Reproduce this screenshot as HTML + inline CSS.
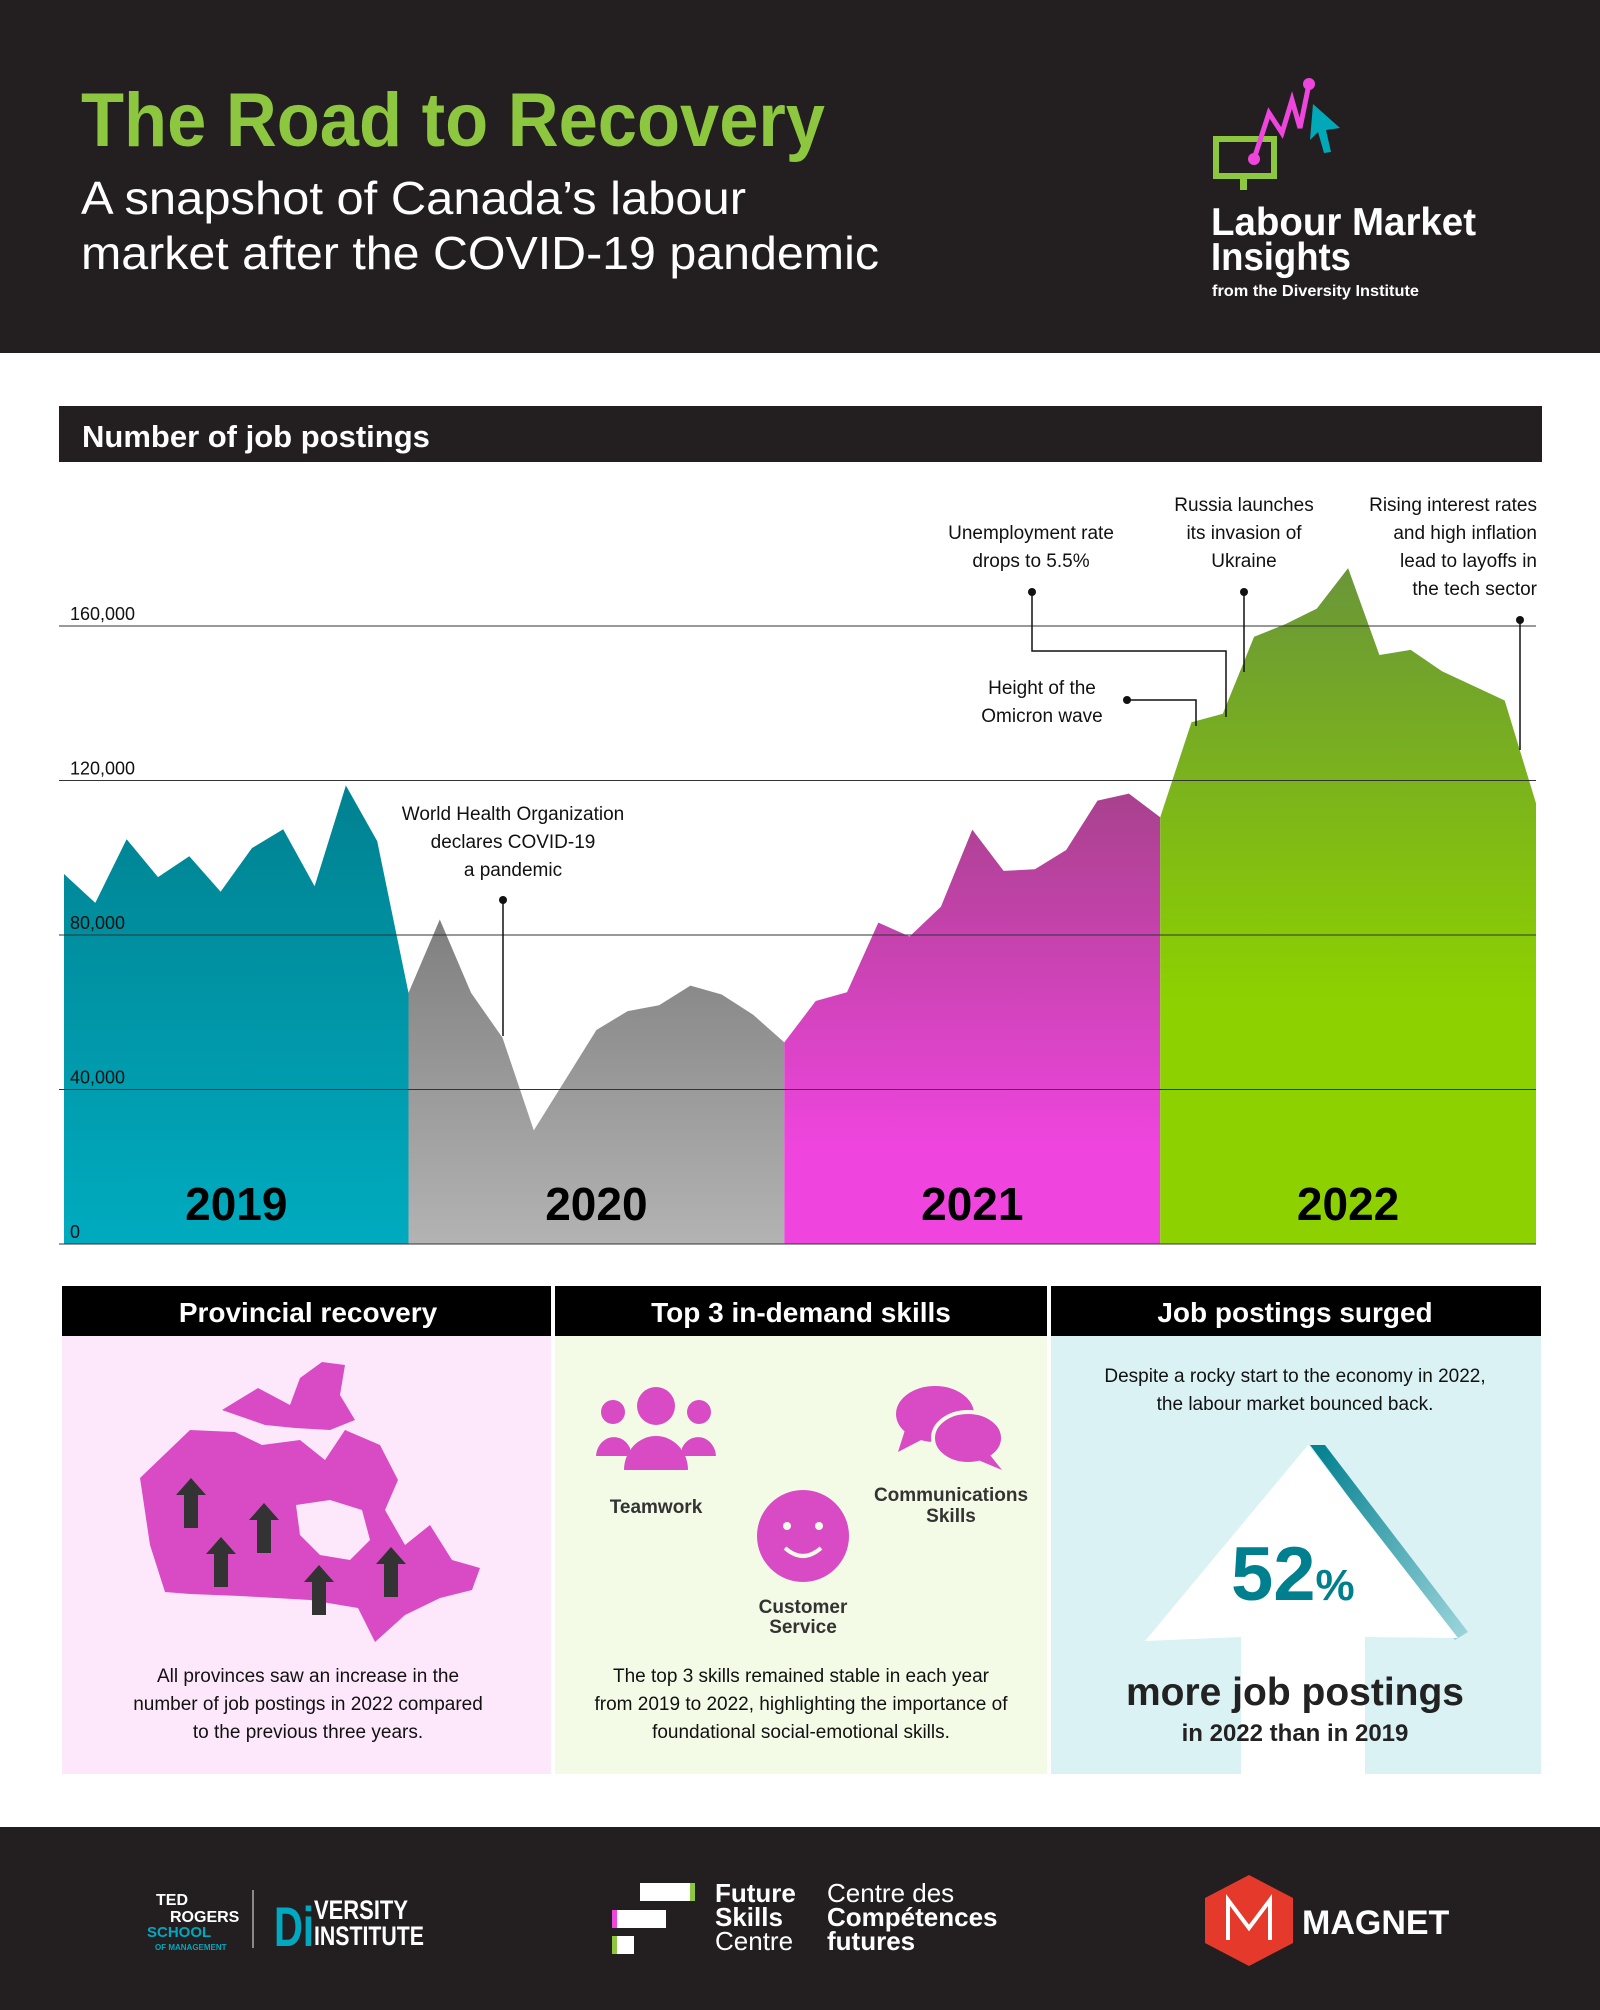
<!DOCTYPE html>
<html><head><meta charset="utf-8"><style>
html,body{margin:0;padding:0;background:#fff}
svg{display:block;font-family:"Liberation Sans",Arial,sans-serif}
</style></head><body>
<svg id="root" width="1600" height="2010" viewBox="0 0 1600 2010">
<defs>
<linearGradient id="g2019" gradientUnits="userSpaceOnUse" x1="0" y1="760" x2="0" y2="1244"><stop offset="0" stop-color="#007f8e"/><stop offset="1" stop-color="#00abbf"/></linearGradient>
<linearGradient id="g2020" gradientUnits="userSpaceOnUse" x1="0" y1="900" x2="0" y2="1244"><stop offset="0" stop-color="#7c7c7c"/><stop offset="1" stop-color="#b3b3b3"/></linearGradient>
<linearGradient id="g2021" gradientUnits="userSpaceOnUse" x1="0" y1="780" x2="0" y2="1150"><stop offset="0" stop-color="#a6418a"/><stop offset="1" stop-color="#ef45de"/></linearGradient>
<linearGradient id="g2022" gradientUnits="userSpaceOnUse" x1="0" y1="570" x2="0" y2="1000"><stop offset="0" stop-color="#6a9638"/><stop offset="1" stop-color="#8dd100"/></linearGradient>
<linearGradient id="gteal" x1="0" y1="0" x2="1" y2="1"><stop offset="0" stop-color="#007f8e"/><stop offset="1" stop-color="#9ed6dc"/></linearGradient>
</defs>

<!-- Header -->
<rect x="0" y="0" width="1600" height="353" fill="#231f20"/>
<text x="81" y="146" font-size="76" font-weight="bold" fill="#8dc63f" textLength="744" lengthAdjust="spacingAndGlyphs">The Road to Recovery</text>
<text x="81" y="214" font-size="46" fill="#fff" textLength="665" lengthAdjust="spacingAndGlyphs">A snapshot of Canada’s labour</text>
<text x="81" y="269" font-size="46" fill="#fff" textLength="798" lengthAdjust="spacingAndGlyphs">market after the COVID-19 pandemic</text>
<g>
<rect x="1216" y="139" width="58" height="37" fill="none" stroke="#8dc63f" stroke-width="6"/>
<rect x="1240" y="176" width="7" height="14" fill="#8dc63f"/>
<polyline points="1254,159 1269,113 1282,133 1292,100 1300,128 1309,84" fill="none" stroke="#ee45dd" stroke-width="5"/>
<circle cx="1254" cy="159" r="6" fill="#ee45dd"/><circle cx="1309" cy="84" r="6" fill="#ee45dd"/>
<polygon points="1313,104 1340,128 1326,130 1331,152 1324,153 1318,132 1310,140" fill="#00a8b8"/>
<text x="1211" y="235" font-size="39" font-weight="bold" fill="#fff" textLength="265" lengthAdjust="spacingAndGlyphs">Labour Market</text>
<text x="1211" y="270" font-size="39" font-weight="bold" fill="#fff" textLength="140" lengthAdjust="spacingAndGlyphs">Insights</text>
<text x="1212" y="296" font-size="16" font-weight="bold" fill="#fff" textLength="207" lengthAdjust="spacingAndGlyphs">from the Diversity Institute</text>
</g>

<!-- Chart header -->
<rect x="59" y="406" width="1483" height="56" fill="#231f20"/>
<text x="82" y="447" font-size="31" font-weight="bold" fill="#fff">Number of job postings</text>

<g id="chart"></g>

<!-- Annotations -->
<g font-size="19" fill="#111" text-anchor="middle">
<g>
<text x="513" y="820">World Health Organization</text><text x="513" y="848">declares COVID-19</text><text x="513" y="876">a pandemic</text>
<circle cx="503" cy="900" r="4"/><line x1="503" y1="900" x2="503" y2="1036" stroke="#111" stroke-width="1.5"/></g>
<g>
<text x="1031" y="539">Unemployment rate</text><text x="1031" y="567">drops to 5.5%</text>
<circle cx="1032" cy="592" r="4"/><polyline points="1032,592 1032,651 1226,651 1226,717" fill="none" stroke="#111" stroke-width="1.5"/></g>
<g>
<text x="1244" y="511">Russia launches</text><text x="1244" y="539">its invasion of</text><text x="1244" y="567">Ukraine</text>
<circle cx="1244" cy="592" r="4"/><line x1="1244" y1="592" x2="1244" y2="672" stroke="#111" stroke-width="1.5"/></g>
<g text-anchor="end">
<text x="1537" y="511">Rising interest rates</text><text x="1537" y="539">and high inflation</text><text x="1537" y="567">lead to layoffs in</text><text x="1537" y="595">the tech sector</text>
<circle cx="1520" cy="620" r="4"/><line x1="1520" y1="620" x2="1520" y2="750" stroke="#111" stroke-width="1.5"/></g>
<g>
<text x="1042" y="694">Height of the</text><text x="1042" y="722">Omicron wave</text>
<circle cx="1127" cy="700" r="4"/><polyline points="1127,700 1196,700 1196,726" fill="none" stroke="#111" stroke-width="1.5"/></g>
</g>

<!-- Panels -->
<g>
<rect x="62" y="1286" width="489" height="50" fill="#000"/>
<rect x="62" y="1336" width="489" height="438" fill="#fde8fb"/>
<text x="308" y="1322" font-size="28" font-weight="bold" fill="#fff" text-anchor="middle">Provincial recovery</text>
<g fill="#d84bc4">
<polygon points="140,1478 190,1430 235,1432 262,1445 300,1440 325,1460 345,1430 380,1445 398,1480 385,1510 405,1545 430,1525 452,1560 480,1568 472,1590 440,1598 405,1615 375,1642 358,1608 310,1600 240,1596 190,1594 165,1592 150,1545"/>
<polygon points="222,1410 258,1388 290,1405 300,1378 322,1362 345,1365 340,1395 355,1420 330,1430 295,1428 265,1425"/>
<polygon points="296,1505 330,1500 362,1510 370,1540 350,1560 320,1555 300,1535" fill="#fde8fb"/>
</g>
<g fill="#333">
<polygon points="191,1478 206,1495 198,1495 198,1528 184,1528 184,1495 176,1495"/>
<polygon points="221,1537 236,1554 228,1554 228,1587 214,1587 214,1554 206,1554"/>
<polygon points="264,1503 279,1520 271,1520 271,1553 257,1553 257,1520 249,1520"/>
<polygon points="319,1565 334,1582 326,1582 326,1615 312,1615 312,1582 304,1582"/>
<polygon points="391,1547 406,1564 398,1564 398,1597 384,1597 384,1564 376,1564"/>
</g>
<g font-size="19" fill="#111" text-anchor="middle">
<text x="308" y="1682">All provinces saw an increase in the</text>
<text x="308" y="1710">number of job postings in 2022 compared</text>
<text x="308" y="1738">to the previous three years.</text></g>
</g>

<g>
<rect x="555" y="1286" width="492" height="50" fill="#000"/>
<rect x="555" y="1336" width="492" height="438" fill="#f3fbe7"/>
<text x="801" y="1322" font-size="28" font-weight="bold" fill="#fff" text-anchor="middle">Top 3 in-demand skills</text>
<g fill="#d84bc4">
<circle cx="656" cy="1406" r="19"/><path d="M624,1470 a32,34 0 0 1 64,0 z"/>
<circle cx="613" cy="1412" r="12"/><path d="M596,1456 a18,20 0 0 1 34,-8 v8 z"/>
<circle cx="699" cy="1412" r="12"/><path d="M682,1456 v-8 a18,20 0 0 1 34,8 z"/>
</g>
<text x="656" y="1513" font-size="19" font-weight="bold" fill="#333" text-anchor="middle">Teamwork</text>
<g>
<circle cx="803" cy="1536" r="46" fill="#d84bc4"/>
<circle cx="787" cy="1526" r="4" fill="#f3fbe7"/><circle cx="819" cy="1526" r="4" fill="#f3fbe7"/>
<path d="M785,1548 q18,16 36,0" fill="none" stroke="#f3fbe7" stroke-width="4"/></g>
<text x="803" y="1613" font-size="19" font-weight="bold" fill="#333" text-anchor="middle">Customer</text>
<text x="803" y="1633" font-size="19" font-weight="bold" fill="#333" text-anchor="middle">Service</text>
<g fill="#d84bc4">
<ellipse cx="935" cy="1414" rx="39" ry="28"/><polygon points="905,1430 898,1452 925,1438"/>
<ellipse cx="968" cy="1438" rx="35" ry="26" stroke="#f3fbe7" stroke-width="4"/><polygon points="990,1455 1002,1470 978,1460"/>
</g>
<text x="951" y="1501" font-size="19" font-weight="bold" fill="#333" text-anchor="middle">Communications</text>
<text x="951" y="1522" font-size="19" font-weight="bold" fill="#333" text-anchor="middle">Skills</text>
<g font-size="19" fill="#111" text-anchor="middle">
<text x="801" y="1682">The top 3 skills remained stable in each year</text>
<text x="801" y="1710">from 2019 to 2022, highlighting the importance of</text>
<text x="801" y="1738">foundational social-emotional skills.</text></g>
</g>

<g>
<rect x="1051" y="1286" width="490" height="50" fill="#000"/>
<rect x="1051" y="1336" width="490" height="438" fill="#daf2f4"/>
<text x="1295" y="1322" font-size="28" font-weight="bold" fill="#fff" text-anchor="middle">Job postings surged</text>
<text x="1295" y="1382" font-size="19" fill="#111" text-anchor="middle">Despite a rocky start to the economy in 2022,</text>
<text x="1295" y="1410" font-size="19" fill="#111" text-anchor="middle">the labour market bounced back.</text>
<polygon points="1310,1445 1325,1445 1468,1632 1455,1640" fill="url(#gteal)"/>
<polygon points="1308,1445 1458,1638 1365,1637 1365,1774 1241,1774 1241,1637 1145,1641" fill="#fff"/>
<text x="1231" y="1600" font-size="76" font-weight="bold" fill="#007f8e">52<tspan font-size="44">%</tspan></text>
<text x="1295" y="1705" font-size="39" font-weight="bold" fill="#222" text-anchor="middle">more job postings</text>
<text x="1295" y="1741" font-size="24" font-weight="bold" fill="#222" text-anchor="middle">in 2022 than in 2019</text>
</g>

<!-- Footer -->
<rect x="0" y="1827" width="1600" height="183" fill="#231f20"/>
<g font-weight="bold">
<text x="156" y="1905" font-size="16" fill="#fff">TED</text>
<text x="170" y="1922" font-size="16" fill="#fff">ROGERS</text>
<text x="147" y="1937" font-size="15" fill="#00a8c0">SCHOOL</text>
<text x="155" y="1950" font-size="8" fill="#00a8c0">OF MANAGEMENT</text>
<rect x="252" y="1890" width="2" height="58" fill="#888"/>
<text x="274" y="1946" font-size="56" fill="#00a8c0" textLength="40" lengthAdjust="spacingAndGlyphs">Di</text>
<text x="314" y="1919" font-size="27" fill="#fff" textLength="94" lengthAdjust="spacingAndGlyphs">VERSITY</text>
<text x="314" y="1945" font-size="27" fill="#fff" textLength="110" lengthAdjust="spacingAndGlyphs">INSTITUTE</text>
</g>
<g>
<rect x="640" y="1883" width="50" height="18" fill="#fff"/><rect x="690" y="1883" width="5" height="18" fill="#8dc63f"/>
<rect x="616" y="1910" width="50" height="18" fill="#fff"/><rect x="612" y="1910" width="5" height="18" fill="#ee45dd"/>
<rect x="616" y="1936" width="18" height="18" fill="#fff"/><rect x="612" y="1936" width="5" height="18" fill="#8dc63f"/>
<text x="715" y="1902" font-size="26" font-weight="bold" fill="#fff">Future</text>
<text x="715" y="1926" font-size="26" font-weight="bold" fill="#fff">Skills</text>
<text x="715" y="1950" font-size="26" fill="#fff">Centre</text>
<text x="827" y="1902" font-size="26" fill="#fff">Centre des</text>
<text x="827" y="1926" font-size="26" font-weight="bold" fill="#fff">Compétences</text>
<text x="827" y="1950" font-size="26" font-weight="bold" fill="#fff">futures</text>
</g>
<g>
<polygon points="1249,1875 1293,1898 1293,1943 1249,1966 1205,1943 1205,1898" fill="#e53a2b"/>
<polyline points="1228,1940 1228,1900 1249,1928 1270,1900 1270,1940" fill="none" stroke="#fff" stroke-width="4"/>
<text x="1302" y="1934" font-size="34" font-weight="bold" fill="#fff">MAGNET</text>
</g>

<script>
// Monthly job postings (thousands)
var years = ["2019", "2020", "2021", "2022"];
var values2019 = [95.8, 88.3, 104.8, 95.0, 100.4, 91.2, 102.5, 107.4, 92.6, 118.7, 104.3];
var values2020 = [65.0, 84.0, 65.0, 53.4, 29.4, 42.4, 55.4, 60.3, 61.8, 66.9, 64.6, 59.4];
var values2021 = [52.2, 62.9, 65.2, 83.2, 79.6, 87.3, 107.3, 96.6, 97.0, 102.0, 114.8, 116.6];
var values2022 = [110.5, 135.1, 137.3, 157.2, 160.5, 164.5, 175.0, 152.5, 153.8, 148.3, 144.5, 140.7, 114.1];
var yTicks = [0, 40, 80, 120, 160];
var yTickLabels = ["0", "40,000", "80,000", "120,000", "160,000"];

(function(){
  var NS = "http://www.w3.org/2000/svg";
  var g = document.getElementById("chart");
  var series = [values2019, values2020, values2021, values2022];
  var fills = ["url(#g2019)", "url(#g2020)", "url(#g2021)", "url(#g2022)"];
  var all = [].concat(values2019, values2020, values2021, values2022);
  var X0 = 64, X1 = 1536, Y0 = 1244, PX = 3.8625;
  function xs(i){ return X0 + i * (X1 - X0) / (all.length - 1); }
  function ys(v){ return Y0 - v * PX; }
  var start = 0;
  for (var s = 0; s < series.length; s++) {
    var n = series[s].length;
    var end = (s < series.length - 1) ? start + n : start + n - 1;
    var d = "M" + xs(start) + "," + Y0;
    for (var i = start; i <= end; i++) d += " L" + xs(i).toFixed(1) + "," + ys(all[i]).toFixed(1);
    d += " L" + xs(end) + "," + Y0 + " Z";
    var p = document.createElementNS(NS, "path");
    p.setAttribute("d", d);
    p.setAttribute("fill", fills[s]);
    
    
    g.appendChild(p);
    var t = document.createElementNS(NS, "text");
    t.setAttribute("x", ((xs(start) + xs(end)) / 2).toFixed(1));
    t.setAttribute("y", 1220);
    t.setAttribute("font-size", 46);
    t.setAttribute("font-weight", "bold");
    t.setAttribute("text-anchor", "middle");
    t.setAttribute("fill", "#000");
    t.textContent = years[s];
    
    
    g.appendChild(t);
    start += n;
  }
  for (var k = 0; k < yTicks.length; k++) {
    var y = ys(yTicks[k]);
    var l = document.createElementNS(NS, "line");
    l.setAttribute("x1", 59); l.setAttribute("x2", 1536);
    l.setAttribute("y1", y); l.setAttribute("y2", y);
    l.setAttribute("stroke", "#333"); l.setAttribute("stroke-width", 1);
    
    
    g.appendChild(l);
    var tl = document.createElementNS(NS, "text");
    tl.setAttribute("x", 70); tl.setAttribute("y", y - 6);
    tl.setAttribute("font-size", 18); tl.setAttribute("fill", "#111");
    tl.textContent = yTickLabels[k];
    
    
    g.appendChild(tl);
  }
})();
</script>
</svg>
</body></html>
